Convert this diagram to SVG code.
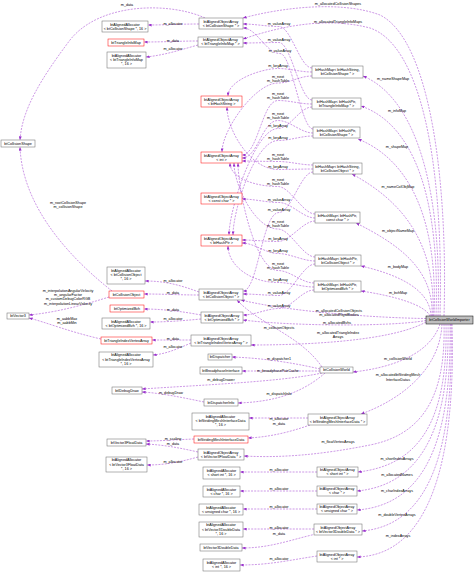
<svg xmlns="http://www.w3.org/2000/svg" width="474" height="572" viewBox="0 0 474 572">
<defs>
<marker id="a" markerUnits="userSpaceOnUse" markerWidth="4" markerHeight="3" refX="3.6" refY="1.5" orient="auto"><path d="M0,0L3.6,1.5L0,3z" fill="#9a32cd"/></marker>
<style>
rect{fill:#fff;stroke:#666;stroke-width:.5}
.r rect{stroke:#f00}
.m rect{fill:#bfbfbf;stroke:#000}
text{font-family:"Liberation Sans",Arial,sans-serif;font-size:3.7px;text-anchor:middle;fill:#000}
#edges path{fill:none;stroke:#9a32cd;stroke-width:.5;stroke-dasharray:2,1.2;marker-end:url(#a)}
</style>
</defs>
<rect x="0" y="0" width="474" height="572" style="fill:#fff;stroke:none"/>
<g id="edges">
<path d="M444,316 C448,180 430,40 380,15 C340,0 280,8 243,18"/>
<path d="M440,316 C444,160 420,45 370,28 C320,15 270,30 243,39"/>
<path d="M438,316 C442,200 420,100 363,76"/>
<path d="M436,316 C440,200 415,125 361,106"/>
<path d="M434,316 C438,220 410,160 358,139"/>
<path d="M433,316 C436,240 400,200 352,174"/>
<path d="M432,316 C434,270 400,245 356,223"/>
<path d="M431,316 C430,290 400,275 361,266"/>
<path d="M430,316 C425,305 395,296 361,291"/>
<path d="M426,318.5 C380,318 290,312 241,300"/>
<path d="M426,320.5 C390,327 290,326 243,320"/>
<path d="M426,322 C390,342 300,345 251,345"/>
<path d="M440,324 C430,355 390,368 353,372"/>
<path d="M442,324 C440,370 400,400 361,414"/>
<path d="M444,324 C446,400 420,435 370,445 C320,455 280,458 244,456"/>
<path d="M446,324 C448,420 420,465 358,472"/>
<path d="M448,324 C450,430 420,485 357,491"/>
<path d="M450,324 C452,440 425,505 357,510"/>
<path d="M451,324 C454,450 430,525 362,531"/>
<path d="M452,324 C456,460 430,555 357,557"/>
<path d="M312,68 C300,68 291,26.5 279,26.5 C267,26.5 255,24 243,24"/>
<path d="M312,72 C300,72 290,68.5 278,68.5 C262,68.5 228,80 228,96"/>
<path d="M312,76 C300,76 290,83 278,83 C255,83 222,130 222,152"/>
<path d="M312,100 C300,100 291,42.5 279,42.5 C267,42.5 255,43 243,43"/>
<path d="M312,104 C300,104 290,100.5 278,100.5 C262,100.5 258,155 242,155"/>
<path d="M312,107 C300,107 290,128.5 278,128.5 C255,128.5 229,210 229,235"/>
<path d="M313,129 C301,129 292,53.5 280,53.5 C266,53.5 257,28 243,28"/>
<path d="M313,133 C301,133 290,120.5 278,120.5 C262,120.5 258,158 242,158"/>
<path d="M313,136 C301,136 290,140.5 278,140.5 C255,140.5 233,210 233,235"/>
<path d="M313,165 C301,165 290,161.5 278,161.5 C266,161.5 254,161 242,161"/>
<path d="M313,169 C301,169 290,169.5 278,169.5 C250,169.5 227,130 227,107"/>
<path d="M313,172 C301,172 291,212.5 279,212.5 C262,212.5 258,291 243,291"/>
<path d="M315,214 C303,214 290,186.5 278,186.5 C255,186.5 230,178 230,163"/>
<path d="M315,218 C303,218 291,202.5 279,202.5 C267,202.5 254,199 242,199"/>
<path d="M315,221 C303,221 290,241.5 278,241.5 C266,241.5 254,240 242,240"/>
<path d="M315,257 C303,257 290,229 278,229 C255,229 234,185 234,163"/>
<path d="M315,261 C303,261 290,253.5 278,253.5 C266,253.5 254,243 242,243"/>
<path d="M315,264 C303,264 291,295.5 279,295.5 C267,295.5 255,294 243,294"/>
<path d="M314,283 C302,283 290,270.5 278,270.5 C255,270.5 238,190 238,163"/>
<path d="M314,287 C302,287 290,282.5 278,282.5 C250,282.5 228,265 228,246"/>
<path d="M314,290 C302,290 291,308.5 279,308.5 C267,308.5 255,315 243,315"/>
<path d="M322,367 C300,335 260,325 237,300"/>
<path d="M320,369 C290,362 260,358 232,357"/>
<path d="M320,371 C300,371 270,371 242,371"/>
<path d="M322,373 C280,382 200,385 142,389"/>
<path d="M325,373 C300,395 270,402 238,403"/>
<path d="M204,402 C180,397 160,393 142,392"/>
<path d="M308,418 C290,418 270,418 249,418"/>
<path d="M310,425 C290,432 270,437 248,438"/>
<path d="M194,439 C170,440 160,441 146,441"/>
<path d="M198,452 C180,448 165,445 146,444"/>
<path d="M198,457 C180,462 165,465 147,465"/>
<path d="M317,472 L240,472"/>
<path d="M317,491 L240,491"/>
<path d="M317,509 L243,509"/>
<path d="M314,529 L243,529"/>
<path d="M316,534 C290,540 270,548 242,548"/>
<path d="M317,556 C290,560 270,565 240,565"/>
<path d="M199,24 C180,24 165,25 148,25"/>
<path d="M205,18 C170,2 100,2 70,40 C40,80 22,110 20,140"/>
<path d="M198,41 C180,41 165,42 144,42"/>
<path d="M198,45 C180,50 165,55 146,57"/>
<path d="M199,292 C180,285 165,281 145,281"/>
<path d="M199,295 C180,295 165,294 144,294"/>
<path d="M201,315 C180,311 160,309 144,309"/>
<path d="M201,319 C180,321 165,322 150,322"/>
<path d="M191,340 C175,340 165,340 152,340"/>
<path d="M191,343 C175,350 165,354 153,355"/>
<path d="M109,297 C90,303 60,312 29,315"/>
<path d="M112,291 C60,250 22,200 20,147"/>
<path d="M101,339 C70,332 45,322 29,318"/>
</g>
<g id="labels">
<text x="127" y="5.5">m_data</text>
<text x="338" y="4.5">m_allocatedCollisionShapes</text>
<text x="338" y="22.5">m_allocatedTriangleInfoMaps</text>
<text x="173" y="24.5">m_allocator</text>
<text x="173" y="41.5">m_data</text>
<text x="173" y="49.5">m_allocator</text>
<text x="279" y="24.5">m_valueArray</text>
<text x="279" y="40.5">m_valueArray</text>
<text x="280" y="51.5">m_valueArray</text>
<text x="278" y="66.5">m_keyArray</text>
<text x="278" y="77.5">m_next</text><text x="278" y="81.5">m_hashTable</text>
<text x="393" y="79.5">m_nameShapeMap</text>
<text x="278" y="94.5">m_next</text><text x="278" y="98.5">m_hashTable</text>
<text x="397" y="111.5">m_infoMap</text>
<text x="278" y="114.5">m_next</text><text x="278" y="118.5">m_hashTable</text>
<text x="278" y="126.5">m_keyArray</text>
<text x="278" y="138.5">m_keyArray</text>
<text x="397" y="147.5">m_shapeMap</text>
<text x="278" y="155.5">m_next</text><text x="278" y="159.5">m_hashTable</text>
<text x="278" y="167.5">m_keyArray</text>
<text x="278" y="180.5">m_next</text><text x="278" y="184.5">m_hashTable</text>
<text x="398" y="187.5">m_nameColObjMap</text>
<text x="279" y="200.5">m_valueArray</text>
<text x="279" y="210.5">m_valueArray</text>
<text x="68" y="204">m_rootCollisionShape</text><text x="68" y="208">m_collisionShape</text>
<text x="278" y="223">m_next</text><text x="278" y="227">m_hashTable</text>
<text x="398" y="231.5">m_objectNameMap</text>
<text x="278" y="239.5">m_keyArray</text>
<text x="278" y="251.5">m_keyArray</text>
<text x="278" y="264.5">m_next</text><text x="278" y="268.5">m_hashTable</text>
<text x="398" y="267.5">m_bodyMap</text>
<text x="278" y="280.5">m_keyArray</text>
<text x="173" y="281.5">m_allocator</text>
<text x="173" y="293.5">m_data</text>
<text x="279" y="293.5">m_valueArray</text>
<text x="398" y="293.5">m_bvhMap</text>
<text x="68" y="292">m_interpolationAngularVelocity</text>
<text x="68" y="296.2">m_angularFactor</text>
<text x="68" y="300.3">m_customDebugColorRGB</text>
<text x="68" y="304.5">m_interpolationLinearVelocity</text>
<text x="279" y="306.5">m_valueArray</text>
<text x="173" y="310.5">m_data</text>
<text x="339" y="312.3">m_allocatedCollisionObjects</text><text x="339" y="316">m_allocatedRigidBodies</text>
<text x="67" y="319.6">m_aabbMax</text><text x="67" y="324">m_aabbMin</text>
<text x="173" y="319.5">m_allocator</text>
<text x="337" y="324">m_allocatedBvhs</text>
<text x="279" y="329">m_collisionObjects</text>
<text x="338" y="333.6">m_allocatedTriangleIndex</text><text x="338" y="338">Arrays</text>
<text x="173" y="340.3">m_data</text>
<text x="173" y="348">m_allocator</text>
<text x="279" y="359.6">m_dispatcher1</text>
<text x="398" y="359.6">m_collisionWorld</text>
<text x="278" y="372">m_broadphasePairCache</text>
<text x="398" y="376.3">m_allocatedbtStridingMesh</text><text x="398" y="380.6">InterfaceDatas</text>
<text x="221" y="380.6">m_debugDrawer</text>
<text x="171" y="394">m_debugDraw</text>
<text x="279" y="394.6">m_dispatchInfo</text>
<text x="279" y="419.6">m_allocator</text>
<text x="279" y="425.3">m_data</text>
<text x="173" y="439.6">m_scaling</text>
<text x="338" y="443">m_floatVertexArrays</text>
<text x="173" y="445.3">m_data</text>
<text x="397" y="460.3">m_shortIndexArrays</text>
<text x="173" y="463">m_allocator</text>
<text x="279" y="470.6">m_allocator</text>
<text x="397" y="475.6">m_allocatedNames</text>
<text x="279" y="489.6">m_allocator</text>
<text x="397" y="492.3">m_charIndexArrays</text>
<text x="279" y="508">m_allocator</text>
<text x="397" y="515.6">m_doubleVertexArrays</text>
<text x="279" y="529">m_allocator</text><text x="279" y="534.6">m_data</text>
<text x="398" y="537.3">m_indexArrays</text>
<text x="279" y="559.6">m_allocator</text>
</g>
<g id="n_importer" class="m"><rect x="426" y="316" width="47" height="8"/><text x="449.5" y="321.3">btCollisionWorldImporter</text></g>
<g id="n_aoa_cs"><rect x="199" y="18" width="44" height="11"/><text x="221" y="22.6">btAlignedObjectArray</text><text x="221" y="26.8">&lt; btCollisionShape * &gt;</text></g>
<g id="n_aoa_tim"><rect x="198" y="37" width="45" height="10"/><text x="220.5" y="41.2">btAlignedObjectArray</text><text x="220.5" y="45.4">&lt; btTriangleInfoMap * &gt;</text></g>
<g id="n_aa_cs"><rect x="102" y="21" width="46" height="11"/><text x="125" y="25.6">btAlignedAllocator</text><text x="125" y="29.8">&lt; btCollisionShape *, 16 &gt;</text></g>
<g id="n_tim" class="r"><rect x="108" y="39" width="36" height="7"/><text x="126" y="43.8">btTriangleInfoMap</text></g>
<g id="n_aa_tim"><rect x="107" y="52" width="39" height="16"/><text x="126.5" y="56.5">btAlignedAllocator</text><text x="126.5" y="60.7">&lt; btTriangleInfoMap</text><text x="126.5" y="64.9">*, 16 &gt;</text></g>
<g id="n_cs"><rect x="1" y="140" width="34" height="7"/><text x="18" y="144.8">btCollisionShape</text></g>
<g id="n_hs" class="r"><rect x="201" y="96" width="41" height="11"/><text x="221.5" y="100.6">btAlignedObjectArray</text><text x="221.5" y="104.8">&lt; btHashString &gt;</text></g>
<g id="n_int" class="r"><rect x="201" y="152" width="41" height="11"/><text x="221.5" y="156.6">btAlignedObjectArray</text><text x="221.5" y="160.8">&lt; int &gt;</text></g>
<g id="n_cc" class="r"><rect x="201" y="193" width="41" height="11"/><text x="221.5" y="197.6">btAlignedObjectArray</text><text x="221.5" y="201.8">&lt; const char * &gt;</text></g>
<g id="n_hp" class="r"><rect x="201" y="235" width="41" height="11"/><text x="221.5" y="239.6">btAlignedObjectArray</text><text x="221.5" y="243.8">&lt; btHashPtr &gt;</text></g>
<g id="n_hm1"><rect x="312" y="66" width="51" height="12"/><text x="337.5" y="70.8">btHashMap&lt; btHashString,</text><text x="337.5" y="75">btCollisionShape * &gt;</text></g>
<g id="n_hm2"><rect x="312" y="98" width="49" height="11"/><text x="336.5" y="102.6">btHashMap&lt; btHashPtr,</text><text x="336.5" y="106.8">btTriangleInfoMap * &gt;</text></g>
<g id="n_hm3"><rect x="313" y="127" width="47" height="11"/><text x="336.5" y="131.6">btHashMap&lt; btHashPtr,</text><text x="336.5" y="135.8">btCollisionShape * &gt;</text></g>
<g id="n_hm4"><rect x="313" y="163" width="49" height="11"/><text x="337.5" y="167.6">btHashMap&lt; btHashString,</text><text x="337.5" y="171.8">btCollisionObject * &gt;</text></g>
<g id="n_hm5"><rect x="315" y="212" width="45" height="11"/><text x="337.5" y="216.6">btHashMap&lt; btHashPtr,</text><text x="337.5" y="220.8">const char * &gt;</text></g>
<g id="n_hm6"><rect x="315" y="255" width="46" height="11"/><text x="338" y="259.6">btHashMap&lt; btHashPtr,</text><text x="338" y="263.8">btCollisionObject * &gt;</text></g>
<g id="n_hm7"><rect x="314" y="281" width="47" height="11"/><text x="337.5" y="285.6">btHashMap&lt; btHashPtr,</text><text x="337.5" y="289.8">btOptimizedBvh * &gt;</text></g>
<g id="n_aa_co"><rect x="107" y="267" width="38" height="17"/><text x="126" y="271.5">btAlignedAllocator</text><text x="126" y="275.7">&lt; btCollisionObject</text><text x="126" y="279.9">*, 16 &gt;</text></g>
<g id="n_co" class="r"><rect x="109" y="291" width="35" height="7"/><text x="126.5" y="295.8">btCollisionObject</text></g>
<g id="n_ob" class="r"><rect x="110" y="305" width="34" height="7"/><text x="127" y="309.8">btOptimizedBvh</text></g>
<g id="n_aa_ob"><rect x="102" y="318" width="48" height="11"/><text x="126" y="322.6">btAlignedAllocator</text><text x="126" y="326.8">&lt; btOptimizedBvh *, 16 &gt;</text></g>
<g id="n_tiva" class="r"><rect x="101" y="337" width="51" height="7"/><text x="126.5" y="341.8">btTriangleIndexVertexArray</text></g>
<g id="n_aa_tiva"><rect x="99" y="352" width="54" height="15"/><text x="126" y="356.3">btAlignedAllocator</text><text x="126" y="360.5">&lt; btTriangleIndexVertexArray</text><text x="126" y="364.7">*, 16 &gt;</text></g>
<g id="n_v3"><rect x="7" y="313" width="22" height="6"/><text x="18" y="317.3">btVector3</text></g>
<g id="n_aoa_co"><rect x="199" y="289" width="44" height="11"/><text x="221" y="293.6">btAlignedObjectArray</text><text x="221" y="297.8">&lt; btCollisionObject * &gt;</text></g>
<g id="n_aoa_ob"><rect x="201" y="312" width="42" height="11"/><text x="222" y="316.6">btAlignedObjectArray</text><text x="222" y="320.8">&lt; btOptimizedBvh * &gt;</text></g>
<g id="n_aoa_tiva"><rect x="191" y="335" width="60" height="11"/><text x="221" y="339.6">btAlignedObjectArray</text><text x="221" y="343.8">&lt; btTriangleIndexVertexArray * &gt;</text></g>
<g id="n_disp"><rect x="208" y="354" width="24" height="6"/><text x="220" y="358.3">btDispatcher</text></g>
<g id="n_bi"><rect x="200" y="367" width="42" height="7"/><text x="221" y="371.8">btBroadphaseInterface</text></g>
<g id="n_idd"><rect x="112" y="387" width="30" height="7"/><text x="127" y="391.8">btIDebugDraw</text></g>
<g id="n_di"><rect x="204" y="399" width="34" height="7"/><text x="221" y="403.8">btDispatcherInfo</text></g>
<g id="n_cw"><rect x="320" y="367" width="33" height="6"/><text x="336.5" y="371.3">btCollisionWorld</text></g>
<g id="n_aa_smid"><rect x="192" y="413" width="57" height="17"/><text x="220.5" y="417.5">btAlignedAllocator</text><text x="220.5" y="421.7">&lt; btStridingMeshInterfaceData</text><text x="220.5" y="425.9">*, 16 &gt;</text></g>
<g id="n_aoa_smid"><rect x="308" y="414" width="59" height="11"/><text x="337.5" y="418.6">btAlignedObjectArray</text><text x="337.5" y="422.8">&lt; btStridingMeshInterfaceData * &gt;</text></g>
<g id="n_smid" class="r"><rect x="194" y="436" width="54" height="7"/><text x="221" y="440.8">btStridingMeshInterfaceData</text></g>
<g id="n_v3f"><rect x="107" y="439" width="39" height="7"/><text x="126.5" y="443.8">btVector3FloatData</text></g>
<g id="n_aa_v3f"><rect x="106" y="457" width="41" height="15"/><text x="126.5" y="461.3">btAlignedAllocator</text><text x="126.5" y="465.5">&lt; btVector3FloatData</text><text x="126.5" y="469.7">*, 16 &gt;</text></g>
<g id="n_aoa_v3f"><rect x="198" y="449" width="46" height="11"/><text x="221" y="453.6">btAlignedObjectArray</text><text x="221" y="457.8">&lt; btVector3FloatData * &gt;</text></g>
<g id="n_aa_si"><rect x="203" y="467" width="37" height="12"/><text x="221.5" y="471.8">btAlignedAllocator</text><text x="221.5" y="476">&lt; short int *, 16 &gt;</text></g>
<g id="n_aa_c"><rect x="203" y="486" width="37" height="11"/><text x="221.5" y="490.6">btAlignedAllocator</text><text x="221.5" y="494.8">&lt; char *, 16 &gt;</text></g>
<g id="n_aa_uc"><rect x="199" y="504" width="44" height="11"/><text x="221" y="508.6">btAlignedAllocator</text><text x="221" y="512.8">&lt; unsigned char *, 16 &gt;</text></g>
<g id="n_aa_v3d"><rect x="199" y="522" width="44" height="15"/><text x="221" y="526.3">btAlignedAllocator</text><text x="221" y="530.5">&lt; btVector3DoubleData</text><text x="221" y="534.7">*, 16 &gt;</text></g>
<g id="n_v3d"><rect x="200" y="544" width="42" height="7"/><text x="221" y="548.8">btVector3DoubleData</text></g>
<g id="n_aa_i"><rect x="203" y="559" width="37" height="12"/><text x="221.5" y="563.8">btAlignedAllocator</text><text x="221.5" y="568">&lt; int *, 16 &gt;</text></g>
<g id="n_aoa_si"><rect x="317" y="467" width="41" height="10"/><text x="337.5" y="471.2">btAlignedObjectArray</text><text x="337.5" y="475.4">&lt; short int * &gt;</text></g>
<g id="n_aoa_c"><rect x="317" y="486" width="40" height="10"/><text x="337" y="490.2">btAlignedObjectArray</text><text x="337" y="494.4">&lt; char * &gt;</text></g>
<g id="n_aoa_uc"><rect x="317" y="504" width="40" height="10"/><text x="337" y="508.2">btAlignedObjectArray</text><text x="337" y="512.4">&lt; unsigned char * &gt;</text></g>
<g id="n_aoa_v3d"><rect x="314" y="524" width="48" height="11"/><text x="338" y="528.6">btAlignedObjectArray</text><text x="338" y="532.8">&lt; btVector3DoubleData * &gt;</text></g>
<g id="n_aoa_i"><rect x="317" y="551" width="40" height="11"/><text x="337" y="555.6">btAlignedObjectArray</text><text x="337" y="559.8">&lt; int * &gt;</text></g>
</svg>
